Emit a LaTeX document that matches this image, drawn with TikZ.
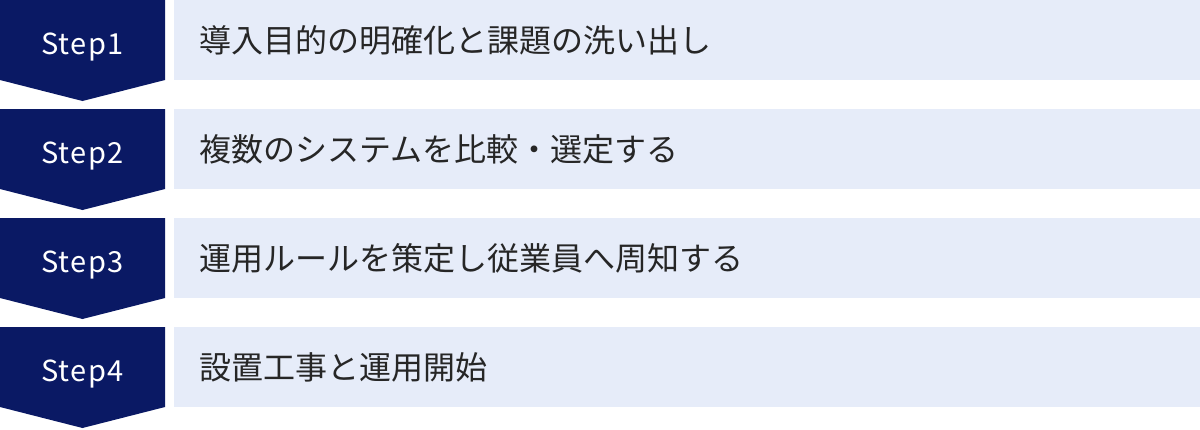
\documentclass[tikz,border=0pt]{standalone}
\usepackage{fontspec}
\setmainfont{Noto Sans CJK JP}
\definecolor{stepnavy}{RGB}{10,25,100}
\definecolor{barlavender}{RGB}{230,236,249}

\begin{document}
\begin{tikzpicture}[
					x=1pt,y=-1pt,
					stepshape/.style={fill=stepnavy},
					steplabel/.style={text=white,anchor=base,inner sep=0pt,
						font=\fontsize{29}{34}\selectfont\addfontfeature{LetterSpace=5}},
					taskbar/.style={fill=barlavender,anchor=north west,minimum height=80pt,
						inner xsep=25pt,text width=976pt,align=left,text=black!85,
						font=\fontsize{32}{38}\selectfont},
					]
					\useasboundingbox (0,0) rectangle (1200,429);
					\foreach \txt [count=\i, evaluate=\i as \y using 109*(\i-1)] in
						{導入目的の明確化と課題の洗い出し,複数のシステムを比較・選定する,
						 運用ルールを策定し従業員へ周知する,設置工事と運用開始}{
						\fill[stepshape] (0,\y) -- (165,\y) -- (165,\y+80) -- (82.5,\y+101) -- (0,\y+80) -- cycle;
						\node [steplabel] (step\i) at (82.5,\y+54) {Step\i};
						\node [taskbar] (task\i) at (174,\y) {\txt};
					}
				\end{tikzpicture}
\end{document}
